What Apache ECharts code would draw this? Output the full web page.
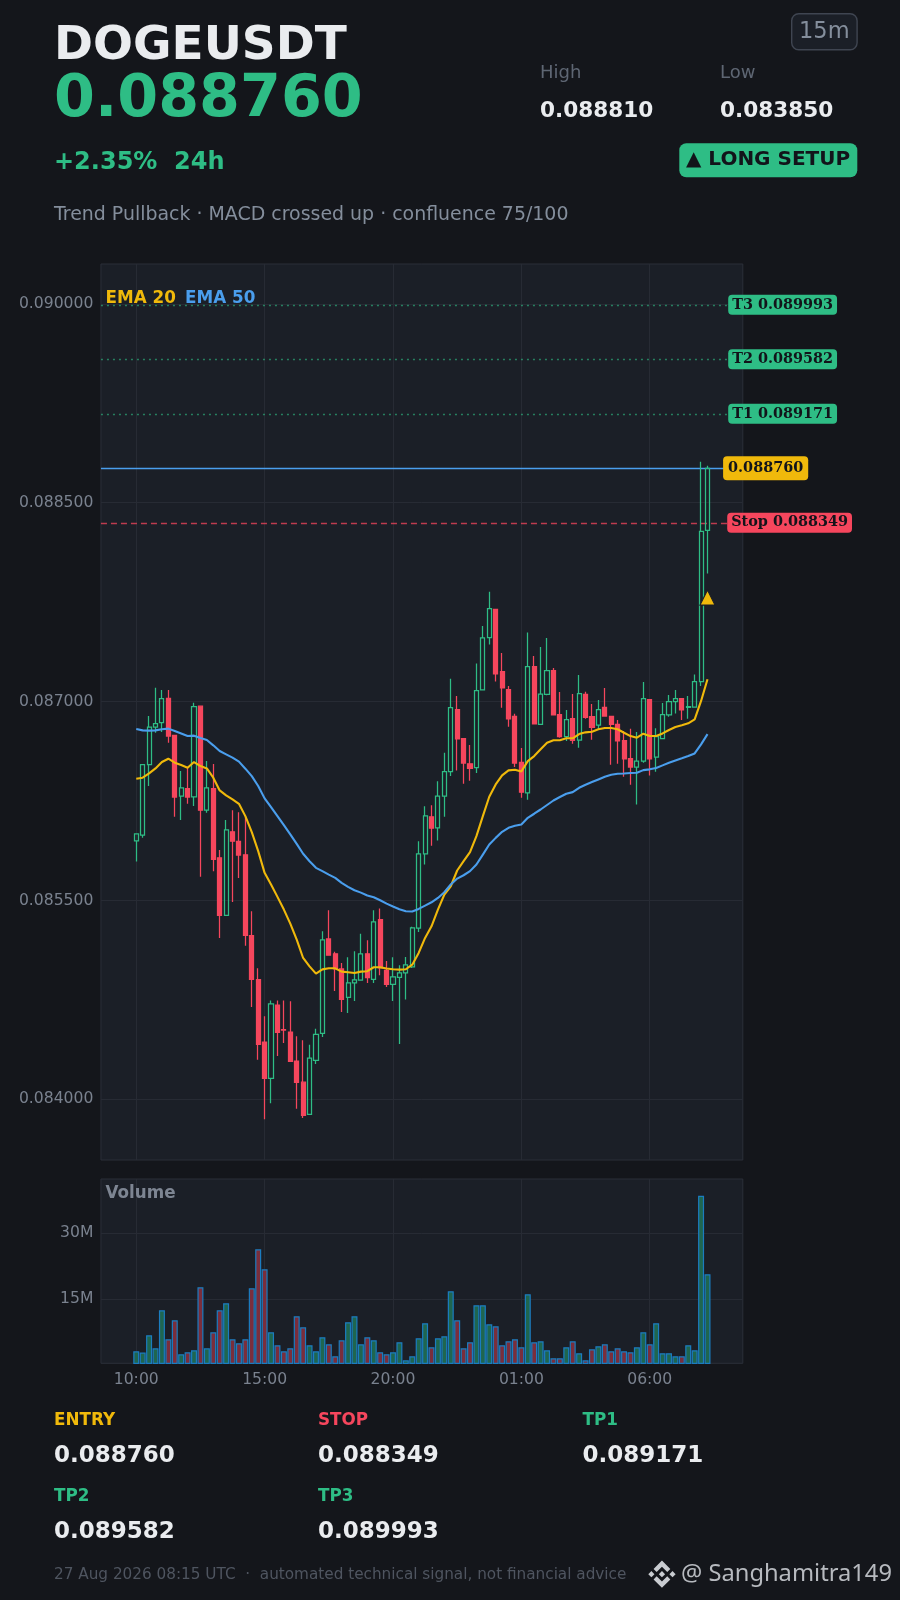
<!DOCTYPE html>
<html><head><meta charset="utf-8">
<style>html,body{margin:0;padding:0;background:#14161b}#c{width:900px;height:1600px}</style>
<script src="https://cdn.jsdelivr.net/npm/echarts@6/dist/echarts.min.js"></script>
</head><body><div id="c"></div>
<script>
const open=[0.085950,0.085993,0.086524,0.086808,0.086841,0.087025,0.086746,0.086287,0.086343,0.086282,
0.086965,0.086181,0.086343,0.085822,0.085388,0.086018,0.085945,0.085844,0.085235,0.084903,
0.084432,0.084157,0.084711,0.084525,0.084507,0.084288,0.084129,0.083886,0.084293,0.084497,
0.085210,0.085097,0.084983,0.084769,0.084878,0.084898,0.085097,0.084905,0.085356,0.084973,
0.084867,0.084920,0.084953,0.084998,0.085292,0.085851,0.086131,0.086048,0.086287,0.086471,
0.086939,0.086720,0.086531,0.086501,0.087088,0.087483,0.087695,0.087226,0.087090,0.086889,
0.086541,0.086312,0.087264,0.086828,0.087055,0.087234,0.086901,0.086735,0.086871,0.086710,
0.087055,0.086886,0.086823,0.086957,0.086889,0.086828,0.086705,0.086569,0.086506,0.086551,
0.087015,0.086582,0.086720,0.086899,0.087000,0.087022,0.086957,0.086959,0.087151,0.088291];
const close=[0.086003,0.086524,0.086808,0.086834,0.087022,0.086740,0.086280,0.086350,0.086280,0.086962,
0.086181,0.086350,0.085809,0.085388,0.086033,0.085947,0.085842,0.085237,0.084905,0.084414,
0.084157,0.084719,0.084505,0.084522,0.084286,0.084127,0.083878,0.084311,0.084490,0.085202,
0.085087,0.084983,0.084754,0.084878,0.084900,0.085097,0.084918,0.085338,0.084991,0.084867,
0.084923,0.084953,0.085014,0.085293,0.085851,0.086138,0.086045,0.086287,0.086471,0.086954,
0.086718,0.086536,0.086496,0.087083,0.087481,0.087702,0.087209,0.087103,0.086869,0.086536,
0.086317,0.087264,0.086831,0.087057,0.087234,0.086899,0.086735,0.086864,0.086708,0.087060,
0.086881,0.086806,0.086939,0.086891,0.086828,0.086703,0.086567,0.086506,0.086551,0.087022,
0.086567,0.086735,0.086901,0.087000,0.087022,0.086937,0.086962,0.087151,0.088284,0.088760];
const low=[0.085794,0.085972,0.086363,0.086765,0.086771,0.086690,0.086131,0.086106,0.086229,0.086212,
0.085678,0.086161,0.085721,0.085217,0.085388,0.085489,0.085670,0.085159,0.084696,0.084298,
0.083850,0.083971,0.084326,0.084424,0.084286,0.083928,0.083858,0.083886,0.084266,0.084470,
0.085087,0.084817,0.084659,0.084651,0.084742,0.084895,0.084878,0.084878,0.084935,0.084847,
0.084742,0.084417,0.084752,0.084991,0.085262,0.085771,0.085912,0.085952,0.086131,0.086438,
0.086481,0.086380,0.086403,0.086461,0.087085,0.087430,0.087151,0.086954,0.086811,0.086506,
0.086274,0.086259,0.086831,0.086826,0.087047,0.086899,0.086728,0.086703,0.086682,0.086652,
0.086871,0.086713,0.086791,0.086891,0.086524,0.086531,0.086433,0.086373,0.086224,0.086539,
0.086443,0.086471,0.086715,0.086886,0.086911,0.086861,0.086871,0.086959,0.087118,0.087966];
const high=[0.086005,0.086524,0.086891,0.087105,0.087088,0.087088,0.086746,0.086476,0.086501,0.086992,
0.086965,0.086552,0.086529,0.085880,0.086106,0.086181,0.086166,0.086136,0.085419,0.084988,
0.084626,0.084746,0.084746,0.084746,0.084739,0.084475,0.084445,0.084412,0.084533,0.085268,
0.085426,0.085112,0.085029,0.085071,0.085117,0.085248,0.085200,0.085426,0.085439,0.085044,
0.085071,0.085011,0.085074,0.085301,0.085947,0.086211,0.086219,0.086400,0.086614,0.087173,
0.087042,0.086720,0.086672,0.087287,0.087571,0.087828,0.087695,0.087367,0.087118,0.086909,
0.086650,0.087521,0.087344,0.087412,0.087480,0.087254,0.087073,0.086937,0.087057,0.087201,
0.087075,0.086982,0.087012,0.087103,0.086889,0.086861,0.086778,0.086796,0.086770,0.087148,
0.087015,0.086798,0.086990,0.087050,0.087088,0.087022,0.087042,0.087204,0.088810,0.088780];
const ema20=[0.086418,0.086426,0.086458,0.086496,0.086544,0.086569,0.086539,0.086521,0.086501,0.086544,
0.086514,0.086496,0.086426,0.086330,0.086292,0.086262,0.086229,0.086136,0.086015,0.085872,
0.085708,0.085620,0.085527,0.085431,0.085325,0.085205,0.085066,0.085003,0.084948,0.084980,
0.084988,0.084988,0.084963,0.084958,0.084953,0.084963,0.084966,0.084996,0.084996,0.084986,
0.084981,0.084978,0.084981,0.085015,0.085104,0.085217,0.085305,0.085431,0.085544,0.085607,
0.085726,0.085796,0.085864,0.085985,0.086136,0.086282,0.086375,0.086443,0.086481,0.086486,
0.086473,0.086551,0.086589,0.086640,0.086690,0.086708,0.086708,0.086723,0.086723,0.086755,
0.086768,0.086773,0.086791,0.086801,0.086801,0.086791,0.086765,0.086740,0.086728,0.086758,
0.086740,0.086740,0.086760,0.086786,0.086808,0.086821,0.086836,0.086866,0.087005,0.087168];
const ema50=[0.086793,0.086783,0.086781,0.086783,0.086791,0.086796,0.086778,0.086760,0.086740,0.086743,
0.086725,0.086710,0.086670,0.086627,0.086602,0.086577,0.086547,0.086494,0.086438,0.086363,
0.086270,0.086204,0.086136,0.086068,0.085998,0.085927,0.085852,0.085796,0.085746,0.085721,
0.085695,0.085670,0.085632,0.085602,0.085577,0.085559,0.085537,0.085524,0.085501,0.085476,
0.085454,0.085433,0.085418,0.085416,0.085436,0.085461,0.085486,0.085519,0.085562,0.085620,
0.085665,0.085690,0.085721,0.085771,0.085846,0.085922,0.085972,0.086018,0.086048,0.086063,
0.086073,0.086123,0.086154,0.086186,0.086220,0.086254,0.086280,0.086305,0.086317,0.086350,
0.086373,0.086393,0.086413,0.086433,0.086448,0.086456,0.086458,0.086461,0.086463,0.086483,
0.086489,0.086499,0.086519,0.086539,0.086556,0.086572,0.086589,0.086609,0.086677,0.086755];
const volumeM=[3.18,2.88,6.82,3.86,12.5,5.91,10.23,2.5,2.95,3.41,
17.73,3.86,7.5,12.5,14.09,5.91,5.0,5.91,17.5,26.36,
21.82,7.5,4.55,3.18,3.86,11.14,8.64,4.55,3.18,6.36,
4.77,2.05,5.68,9.77,11.14,4.77,6.36,5.68,2.95,2.5,
2.95,5.23,1.14,2.05,6.14,9.55,4.09,6.14,6.59,16.82,
10.23,3.86,5.23,13.64,13.64,9.32,8.86,4.55,5.45,5.91,
4.09,16.14,5.23,5.45,3.41,1.59,1.59,4.09,5.45,2.73,
1.14,3.64,4.32,4.77,3.18,3.86,3.18,2.95,4.09,7.5,
4.77,9.55,2.73,2.73,2.05,2.05,4.55,3.41,38.48,20.68];
const priceTicks=[0.084,0.0855,0.087,0.0885,0.09];
const volumeTicks=[15,30];
const targetLevels=[0.089993,0.089582,0.089171];
const targetNames=['T3','T2','T1'];
const lastPrice=0.08876, stopPrice=0.088349;
const signalIndex=89, signalPrice=0.087785;
const stats=[['ENTRY','0.088760'],['STOP','0.088349'],['TP1','0.089171'],['TP2','0.089582'],['TP3','0.089993']];

const GREEN='#2ebd85',RED='#f6465d',AMBER='#f0b90b',BLUE='#4a9eed',PANEL='#1b1f27',GRIDC='#272b34',BORDER='#2b2f39';
const PAD=5, TOTAL=100;
const pad=a=>[...Array(PAD).fill('-'),...a,...Array(PAD).fill('-')];
const cats=[];
for(let i=0;i<TOTAL;i++){const m=((10*60+(i-PAD)*15)%1440+1440)%1440;cats.push(String(Math.floor(m/60)).padStart(2,'0')+':'+String(m%60).padStart(2,'0'));}
const every=(i)=>(i-PAD)%20===0;
const candles=pad(open.map((o,i)=>[o,close[i],low[i],high[i]]));
const volData=pad(volumeM.map((v,i)=>({value:v,itemStyle:{color:close[i]>=open[i]?'#1f6650':'#7a2e3c'}})));

const F='"DejaVu Sans"';
function T(x,base,text,size,fill,bold){
  return {type:'text',z:50,style:{x:x,y:base+2-0.36*size,text:text,fill:fill,verticalAlign:'middle',align:'left',
    font:(bold?'bold ':'')+size+'px '+F}};
}
const statCols=[54,318,582.6];
const graphics=[
 T(54,62,'DOGEUSDT',47,'#eaecef',true),
 T(54,119.5,'0.088760',58.8,GREEN,true),
 T(54,169.5,'+2.35%  24h',24,GREEN,true),
 T(54,220,'Trend Pullback · MACD crossed up · confluence 75/100',18.95,'#848e9c',false),
 T(540,78,'High',18,'#5e6673',false),
 T(720,78,'Low',18,'#5e6673',false),
 T(540,117,'0.088810',21.6,'#eaecef',true),
 T(720,117,'0.083850',21.6,'#eaecef',true),
 {type:'rect',z:49,shape:{x:791.7,y:13.7,width:65.4,height:36,r:7},style:{fill:PANEL,stroke:'#3f4551',lineWidth:1.4}},
 T(799,38.5,'15m',22.5,'#848e9c',false),
 {type:'rect',z:49,shape:{x:679.3,y:143.3,width:178,height:34,r:7},style:{fill:GREEN}},
 T(686,165,'▲ LONG SETUP',20,'#12141a',true),
 T(105.5,303,'EMA 20',16.8,AMBER,true),
 T(185,303,'EMA 50',16.8,BLUE,true),
 T(105.5,1198,'Volume',16.8,'#7d8592',true),
];
const statColor={ENTRY:AMBER,STOP:RED};
stats.forEach((s,i)=>{
 const x=statCols[i%3], r=Math.floor(i/3);
 graphics.push(T(x,1424.5+r*76.5,s[0],16.8,statColor[s[0]]||GREEN,true));
 graphics.push(T(x,1462+r*76.5,s[1],23,'#eaecef',true));
});
graphics.push(T(54,1579,'27 Aug 2026 08:15 UTC  ·  automated technical signal, not financial advice',15.25,'#4f5560',false));
const logoParts=[
 [[38.73,53.2],[63.3,28.63],[87.88,53.21],[102.18,38.91],[63.3,0],[24.43,38.9]],
 [[0,63.31],[14.3,49.01],[28.6,63.31],[14.3,77.61]],
 [[38.73,73.41],[63.3,97.98],[87.88,73.41],[102.18,87.7],[63.3,126.61],[24.43,87.72]],
 [[98,63.31],[112.3,49.01],[126.61,63.31],[112.3,77.61]],
 [[77.83,63.3],[63.3,48.78],[48.79,63.28],[63.3,77.8]]];
logoParts.forEach(p=>graphics.push({type:'polygon',z:50,shape:{points:p.map(q=>[648.3+q[0]*0.2156,1560.5+q[1]*0.2156])},style:{fill:'#c9ccd1'}}));
graphics.push({type:'text',z:50,style:{x:681,y:1574,text:'@ Sanghamitra149',fill:'#b7babf',verticalAlign:'middle',align:'left',font:'23.7px "Noto Sans"'}});

const lvlLabel=(text,bg,dist,pd)=>({show:true,position:'end',distance:dist,formatter:text,backgroundColor:bg,color:'#12141a',
  fontFamily:'DejaVu Serif',fontWeight:'bold',fontSize:14.4,padding:pd,borderRadius:4});
const levels=[
 ...targetLevels.map((v,i)=>({yAxis:v,lineStyle:{color:'rgba(46,189,133,0.62)',opacity:1,width:1.3,type:[2,4]},label:lvlLabel(targetNames[i]+' '+v.toFixed(6),GREEN,-14.6,[3,4])})),
 {yAxis:stopPrice,lineStyle:{color:'rgba(246,70,93,0.75)',opacity:1,width:1.3,type:[6,4]},label:lvlLabel('Stop '+stopPrice.toFixed(6),RED,-15.6,[3,4])},
 {yAxis:lastPrice,lineStyle:{color:BLUE,opacity:1,width:1.3,type:'solid'},label:lvlLabel(lastPrice.toFixed(6),AMBER,-19.7,[5,5])},
];

const chart=echarts.init(document.getElementById('c'),null,{renderer:'canvas',width:900,height:1600,devicePixelRatio:1});
chart.setOption({
 animation:false,backgroundColor:'#14161b',
 graphic:graphics,
 grid:[
  {left:100.95,right:157.2,top:264,height:896,show:true,backgroundColor:PANEL,borderColor:BORDER,borderWidth:1},
  {left:100.95,right:157.2,top:1179,height:184.3,show:true,backgroundColor:PANEL,borderColor:BORDER,borderWidth:1}],
 xAxis:[
  {type:'category',gridIndex:0,data:cats,boundaryGap:true,axisLine:{show:false},axisTick:{show:false},axisLabel:{show:false,interval:every},
   splitLine:{show:true,interval:every,alignWithLabel:true,lineStyle:{color:GRIDC,width:1}}},
  {type:'category',gridIndex:1,data:cats,boundaryGap:true,axisLine:{show:false},axisTick:{show:false},
   axisLabel:{show:true,interval:every,color:'#7a828f',fontFamily:'DejaVu Sans',fontSize:15.6,margin:9},
   splitLine:{show:true,interval:every,alignWithLabel:true,lineStyle:{color:GRIDC,width:1}}}],
 yAxis:[
  {type:'value',gridIndex:0,position:'left',min:0.083542,max:0.090301,scale:true,axisLine:{show:false},
   axisTick:{show:false,customValues:priceTicks},
   axisLabel:{customValues:priceTicks,formatter:v=>v.toFixed(6),color:'#7a828f',fontFamily:'DejaVu Sans',fontSize:15.6,margin:7.6},
   splitLine:{show:true,lineStyle:{color:GRIDC,width:1}}},
  {type:'value',gridIndex:1,position:'left',min:0.45,max:42.3,axisLine:{show:false},
   axisTick:{show:false,customValues:volumeTicks},
   axisLabel:{customValues:volumeTicks,formatter:v=>v+'M',color:'#7a828f',fontFamily:'DejaVu Sans',fontSize:15.6,margin:7.6},
   splitLine:{show:true,lineStyle:{color:GRIDC,width:1}}}],
 series:[
  {type:'candlestick',name:'DOGEUSDT',xAxisIndex:0,yAxisIndex:0,data:candles,barWidth:4.6,z:4,
   itemStyle:{color:'rgba(0,0,0,0)',color0:RED,borderColor:GREEN,borderColor0:RED,borderWidth:1.25}},
  {type:'line',name:'EMA 20',xAxisIndex:0,yAxisIndex:0,data:pad(ema20),showSymbol:false,z:5,lineStyle:{color:AMBER,width:2.1},itemStyle:{color:AMBER},
   markLine:{silent:true,symbol:'none',animation:false,precision:6,data:levels,z:3}},
  {type:'line',name:'EMA 50',xAxisIndex:0,yAxisIndex:0,data:pad(ema50),showSymbol:false,z:5,lineStyle:{color:BLUE,width:2.1},itemStyle:{color:BLUE}},
  {type:'scatter',name:'signal',xAxisIndex:0,yAxisIndex:0,z:6,symbol:'triangle',symbolSize:15,data:[[signalIndex+PAD,signalPrice]],
   itemStyle:{color:AMBER,borderColor:PANEL,borderWidth:1.2,opacity:1}},
  {type:'bar',name:'Volume',xAxisIndex:1,yAxisIndex:1,data:volData,barWidth:6,z:4,
   itemStyle:{borderColor:'#1b7cc0',borderWidth:1.2}},
 ]
});
</script></body></html>
